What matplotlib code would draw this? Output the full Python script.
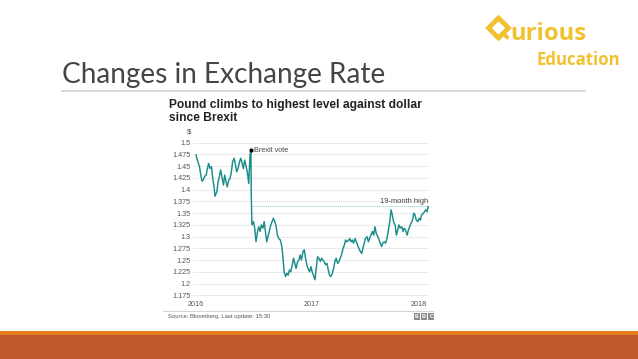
import matplotlib
matplotlib.use('Agg')
import matplotlib.pyplot as plt
from matplotlib.lines import Line2D
from matplotlib.patches import Rectangle, Polygon

# ---- data (days since 2016-01-01, GBP/USD) ----
days = [0, 4, 11, 15, 19, 23, 27, 32, 36, 40, 44, 49, 53, 57, 60, 66, 70, 74, 78, 83,
        87, 91, 95, 99, 104, 108, 112, 116, 121, 125, 129, 133, 138, 142, 146, 150, 154, 159, 163, 167,
        171, 174, 175, 177, 182, 186, 190, 195, 199, 203, 207, 212, 216, 220, 224, 229, 233, 237, 241, 245,
        250, 254, 258, 262, 267, 271, 275, 279, 284, 288, 292, 296, 300, 305, 309, 313, 317, 322, 326, 330,
        334, 339, 343, 347, 351, 355, 360, 364, 368, 372, 377, 381, 385, 389, 394, 398, 402, 406, 411, 415,
        419, 423, 427, 432, 436, 440, 444, 449, 453, 457, 461, 466, 470, 474, 478, 482, 487, 491, 495, 499,
        504, 508, 512, 516, 521, 525, 529, 533, 537, 542, 546, 550, 554, 559, 563, 567, 571, 576, 580, 584,
        588, 592, 597, 601, 605, 609, 614, 618, 622, 626, 631, 635, 639, 643, 647, 652, 656, 660, 664, 669,
        673, 677, 681, 686, 690, 694, 698, 703, 707, 711, 715, 720, 724, 728, 732, 736]
rates = [1.474, 1.463, 1.449, 1.431, 1.418, 1.421, 1.428, 1.431, 1.445, 1.456, 1.445, 1.449, 1.424, 1.406, 1.386, 1.396, 1.417, 1.428, 1.442, 1.424,
         1.410, 1.431, 1.417, 1.406, 1.421, 1.424, 1.438, 1.460, 1.467, 1.452, 1.438, 1.445, 1.460, 1.467, 1.456, 1.445, 1.463, 1.449, 1.435, 1.413,
         1.474, 1.484, 1.389, 1.325, 1.332, 1.318, 1.289, 1.311, 1.321, 1.311, 1.325, 1.318, 1.332, 1.311, 1.289, 1.303, 1.314, 1.325, 1.332, 1.339,
         1.332, 1.321, 1.303, 1.296, 1.293, 1.282, 1.261, 1.225, 1.215, 1.222, 1.218, 1.229, 1.225, 1.240, 1.254, 1.243, 1.232, 1.247, 1.250, 1.261,
         1.250, 1.268, 1.272, 1.254, 1.240, 1.232, 1.225, 1.236, 1.225, 1.218, 1.208, 1.232, 1.257, 1.254, 1.247, 1.254, 1.250, 1.247, 1.240, 1.243,
         1.229, 1.218, 1.215, 1.222, 1.232, 1.247, 1.254, 1.243, 1.247, 1.254, 1.261, 1.275, 1.282, 1.293, 1.289, 1.291, 1.296, 1.289, 1.293, 1.286,
         1.296, 1.289, 1.282, 1.275, 1.268, 1.264, 1.275, 1.286, 1.296, 1.300, 1.289, 1.296, 1.303, 1.311, 1.303, 1.321, 1.307, 1.300, 1.293, 1.286,
         1.279, 1.286, 1.289, 1.286, 1.296, 1.311, 1.332, 1.357, 1.346, 1.332, 1.325, 1.303, 1.314, 1.325, 1.318, 1.321, 1.311, 1.318, 1.314, 1.303,
         1.314, 1.321, 1.328, 1.335, 1.350, 1.346, 1.335, 1.332, 1.339, 1.335, 1.346, 1.350, 1.353, 1.357, 1.353, 1.364]

ytick_values = [1.175, 1.2, 1.225, 1.25, 1.275, 1.3, 1.325, 1.35, 1.375, 1.4, 1.425, 1.45, 1.475, 1.5]
ytick_labels = ['1.175', '1.2', '1.225', '1.25', '1.275', '1.3', '1.325', '1.35', '1.375', '1.4',
                '1.425', '1.45', '1.475', '1.5']
xtick_days = [0, 366, 731]
xtick_labels = ['2016', '2017', '2018']
brexit_day = 174
brexit_rate = 1.484
high_rate = 1.365
high_start_day = 177

chart_title_1 = 'Pound climbs to highest level against dollar'
chart_title_2 = 'since Brexit'
source_text = 'Source: Bloomberg. Last update: 15:30'
slide_title = 'Changes in Exchange Rate'

W, H = 638, 359
fig = plt.figure(figsize=(W / 100, H / 100), dpi=100)
fig.patch.set_facecolor('white')


def fx(x):
    return x / W


def fy(y):
    return 1 - y / H


CH = ['Liberation Sans', 'DejaVu Sans']
TEAL = '#1a8e8b'
renderer = fig.canvas.get_renderer()


def fit_text(x, y, s, target_w, **kw):
    t = fig.text(fx(x), fy(y), s, **kw)
    w = t.get_window_extent(renderer).width
    t.set_fontsize(t.get_fontsize() * target_w / w)
    return t


# ---- chart axes ----
ax = fig.add_axes([fx(193.2), fy(296.7), 235.7 / W, 155.4 / H])
ax.set_xlim(-9, 738)
ax.set_ylim(1.172, 1.503)
for s in ax.spines.values():
    s.set_visible(False)
ax.set_yticks(ytick_values)
ax.set_yticklabels(ytick_labels, family=CH, fontsize=5.2, color='#555555')
ax.set_xticks(xtick_days)
ax.set_xticklabels(xtick_labels, family=CH, fontsize=5.2, color='#555555')
ax.tick_params(axis='both', length=0)
ax.tick_params(axis='y', pad=2.0)
ax.tick_params(axis='x', pad=3.0)
xl = ax.get_xticklabels()
xl[0].set_ha('center')
xl[2].set_ha('right')
ax.grid(axis='y', color='#e2e2e2', linewidth=0.5)
ax.set_axisbelow(True)

ax.plot(days, rates, color=TEAL, linewidth=1.05, zorder=3)
ax.plot([high_start_day, days[-1]], [high_rate, high_rate], color='#7ccfcf',
        linewidth=0.7, linestyle=(0, (1, 1)), zorder=2)
ax.scatter([brexit_day], [brexit_rate], s=4, color='black', zorder=4)
ax.text(brexit_day + 10, brexit_rate, 'Brexit vote', family=CH, fontsize=5.2,
        color='#444444', va='center', ha='left')
ax.text(days[-1], high_rate + 0.003, '19-month high', family=CH, fontsize=5.4,
        color='#444444', va='bottom', ha='right')

# ---- chart texts ----
t1 = fit_text(169, 107.8, chart_title_1, 253, family=CH, fontweight='bold', fontsize=8,
              color='#222222', va='baseline', ha='left')
fig.text(fx(169), fy(121), chart_title_2, family=CH, fontweight='bold',
         fontsize=t1.get_fontsize(), color='#222222', va='baseline', ha='left')
fig.text(fx(191), fy(132), '$', family=CH, fontsize=5.6, color='#444444', ha='right', va='center')
fig.add_artist(Line2D([fx(163), fx(433)], [fy(311), fy(311)], color='#cccccc', linewidth=0.6))
fig.text(fx(168), fy(316.5), source_text, family=CH, fontsize=4.2, color='#555555',
         ha='left', va='center')
for i, ch in enumerate(['B', 'B', 'C']):
    x0 = 413.5 + i * 7.3
    fig.add_artist(Rectangle((fx(x0), fy(319.5)), 6.3 / W, 6.3 / H, facecolor='#8a8a8a',
                             edgecolor='none'))
    fig.text(fx(x0 + 3.15), fy(316.4), ch, family=CH, fontweight='bold', fontsize=4,
             color='white', ha='center', va='center')

# ---- slide decorations ----
fit_text(62, 83, slide_title, 323, family=['Lato', 'DejaVu Sans'], fontweight='normal',
         fontsize=22, color='#454545', va='baseline', ha='left')
fig.add_artist(Line2D([fx(62), fx(585)], [fy(91), fy(91)], color='#d9d9d9', linewidth=1.4))

YEL = '#f2c12e'
fit_text(510, 40, 'urious', 76, family=['Open Sans', 'DejaVu Sans'], fontweight='bold',
         fontsize=16, color=YEL, va='baseline', ha='left')
fit_text(537, 65, 'Education', 83, family=['Open Sans', 'DejaVu Sans'], fontweight='bold',
         fontsize=12, color=YEL, va='baseline', ha='left')
# diamond "Q"
cx, cy, r = 498.5, 28, 10
fig.add_artist(Polygon([(fx(cx), fy(cy - r)), (fx(cx + r), fy(cy)), (fx(cx), fy(cy + r)),
                        (fx(cx - r), fy(cy))], closed=True, fill=False, edgecolor=YEL,
                       linewidth=3.4, joinstyle='miter'))
fig.add_artist(Polygon([(fx(cx + 2), fy(cy + 6)), (fx(cx + 9), fy(cy + 12)),
                        (fx(cx + 11), fy(cy + 9)), (fx(cx + 5), fy(cy + 3))], closed=True,
                       facecolor=YEL, edgecolor='none'))

# ---- bottom band ----
fig.add_artist(Rectangle((0, 0), 1, (H - 334.5) / H, facecolor='#bf582b', edgecolor='none'))
fig.add_artist(Rectangle((0, (H - 334.5) / H), 1, 3.5 / H, facecolor='#e4801c', edgecolor='none'))

fig.savefig('out.png', dpi=100, facecolor='white')
